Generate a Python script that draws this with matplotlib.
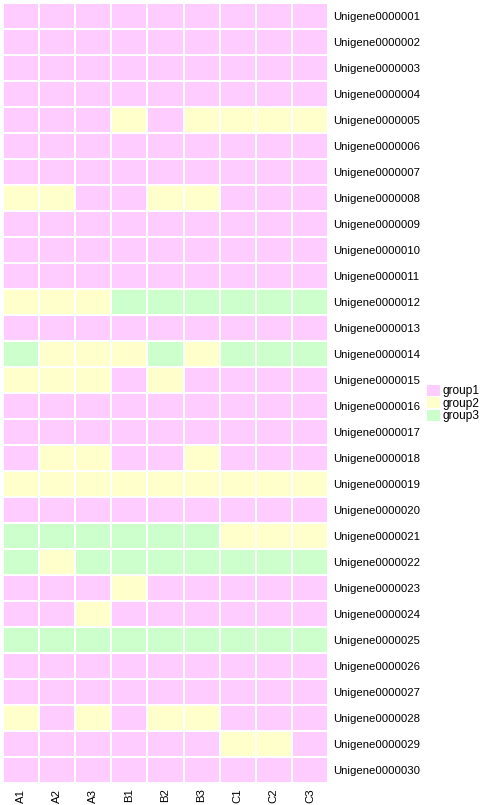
import numpy as np
import matplotlib
matplotlib.use('Agg')
from matplotlib import pyplot as plt
from matplotlib.colors import ListedColormap
from matplotlib.patches import Patch

plt.rcParams['font.family'] = ['Liberation Sans', 'DejaVu Sans']

samples = ['A1', 'A2', 'A3', 'B1', 'B2', 'B3', 'C1', 'C2', 'C3']
genes = ['Unigene%07d' % i for i in range(1, 31)]
group_names = ['group1', 'group2', 'group3']
group_colors = ['#FFCCFF', '#FFFFCC', '#CCFFCC']

# 1 = group1, 2 = group2, 3 = group3 ; one row per gene, columns A1..C3
groups = [
    [1, 1, 1, 1, 1, 1, 1, 1, 1],
    [1, 1, 1, 1, 1, 1, 1, 1, 1],
    [1, 1, 1, 1, 1, 1, 1, 1, 1],
    [1, 1, 1, 1, 1, 1, 1, 1, 1],
    [1, 1, 1, 2, 1, 2, 2, 2, 2],
    [1, 1, 1, 1, 1, 1, 1, 1, 1],
    [1, 1, 1, 1, 1, 1, 1, 1, 1],
    [2, 2, 1, 1, 2, 2, 1, 1, 1],
    [1, 1, 1, 1, 1, 1, 1, 1, 1],
    [1, 1, 1, 1, 1, 1, 1, 1, 1],
    [1, 1, 1, 1, 1, 1, 1, 1, 1],
    [2, 2, 2, 3, 3, 3, 3, 3, 3],
    [1, 1, 1, 1, 1, 1, 1, 1, 1],
    [3, 2, 2, 2, 3, 2, 3, 3, 3],
    [2, 2, 2, 1, 2, 1, 1, 1, 1],
    [1, 1, 1, 1, 1, 1, 1, 1, 1],
    [1, 1, 1, 1, 1, 1, 1, 1, 1],
    [1, 2, 2, 1, 1, 2, 1, 1, 1],
    [2, 2, 2, 2, 2, 2, 2, 2, 2],
    [1, 1, 1, 1, 1, 1, 1, 1, 1],
    [3, 3, 3, 3, 3, 3, 2, 2, 2],
    [3, 2, 3, 3, 3, 3, 3, 3, 3],
    [1, 1, 1, 2, 1, 1, 1, 1, 1],
    [1, 1, 2, 1, 1, 1, 1, 1, 1],
    [3, 3, 3, 3, 3, 3, 3, 3, 3],
    [1, 1, 1, 1, 1, 1, 1, 1, 1],
    [1, 1, 1, 1, 1, 1, 1, 1, 1],
    [2, 1, 2, 1, 2, 2, 1, 1, 1],
    [1, 1, 1, 1, 1, 1, 2, 2, 1],
    [1, 1, 1, 1, 1, 1, 1, 1, 1],
]

W, H = 481, 805
fig = plt.figure(figsize=(W / 100, H / 100), dpi=100)
ax = fig.add_axes([3 / W, 22 / H, 325 / W, 780 / H])

data = np.array(groups)
cmap = ListedColormap(group_colors)
ax.pcolormesh(data, cmap=cmap, vmin=0.5, vmax=3.5, edgecolors='white', linewidth=1.2)
ax.set_xlim(0, len(samples))
ax.set_ylim(len(genes), 0)

ax.set_xticks(np.arange(len(samples)) + 0.5)
ax.set_xticklabels(samples, rotation=90, fontsize=8.2)
ax.set_yticks(np.arange(len(genes)) + 0.5)
ax.set_yticklabels(genes, fontsize=8.2)
ax.yaxis.tick_right()
ax.tick_params(length=0, pad=4)
for s in ax.spines.values():
    s.set_visible(False)

handles = [Patch(facecolor=c, edgecolor='none', label=n) for c, n in zip(group_colors, group_names)]
fig.legend(handles=handles, loc='upper left', bbox_to_anchor=(427 / W, 1 - 385 / H),
           frameon=False, fontsize=8.6, handlelength=1.05, handleheight=1.0,
           labelspacing=0.0, handletextpad=0.25, borderpad=0, borderaxespad=0)

fig.savefig('out.png', dpi=100)
